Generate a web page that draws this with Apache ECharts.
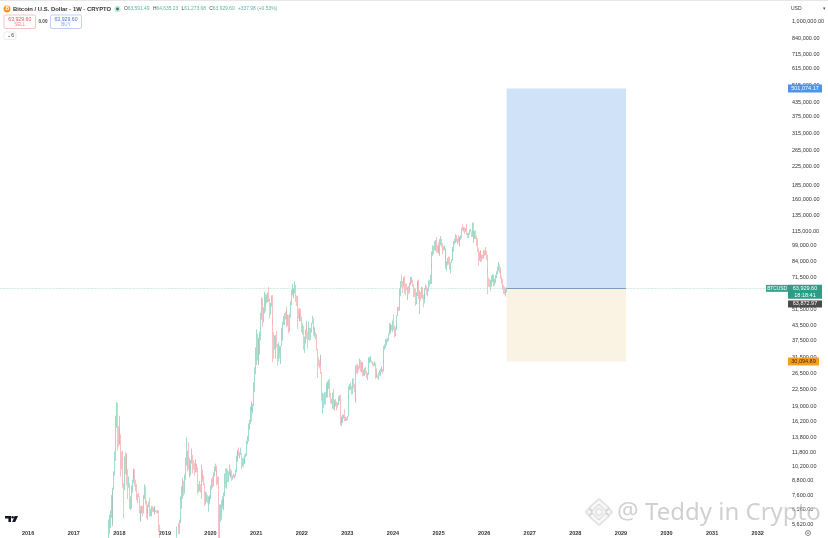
<!DOCTYPE html>
<html><head><meta charset="utf-8">
<style>html,body{margin:0;padding:0;background:#fff}#c{width:828px;height:538px}</style>
<script src="https://cdn.jsdelivr.net/npm/echarts@6/dist/echarts.min.js"></script>
</head><body><div id="c"></div>
<script>
// Weekly candles, flat High,Low,Close in thousands of USD, one line per month.
const firstOpen = 4.3;
const w2017 = [
4.9,4.1,4.8, 5.9,4.7,5.7, 6.2,5.1,6.0, 6.5,5.4,6.1, 7.6,6.0,7.4,
7.9,5.5,5.9, 8.2,5.6,8.0, 9.7,8.0,9.3, 11.9,9.4,11.3,
17.2,10.8,15.2, 19.8,15.2,19.0, 19.7,12.0,14.0, 15.5,12.5,13.8];
const w2018 = [
17.2,12.8,14.2, 15.0,12.8,13.6, 14.2,9.2,11.6, 11.9,9.9,11.1, 12.0,8.3,8.2,
8.6,6.0,8.1, 11.3,8.0,10.3, 11.8,9.4,9.6, 11.5,9.4,11.4,
11.7,8.4,9.5, 9.9,7.3,8.2, 9.2,8.2,8.5, 8.6,6.6,6.9,
7.5,6.5,7.0, 8.4,6.6,8.3, 8.9,7.8,8.8, 9.7,8.6,9.3, 10.0,9.0,9.7,
9.9,8.3,8.7, 8.9,7.9,8.2, 8.5,7.2,7.4, 7.7,7.0,7.6,
7.8,7.4,7.5, 7.5,6.3,6.5, 6.8,5.8,6.1, 6.5,5.8,6.4,
6.8,6.3,6.7, 6.8,6.1,6.3, 7.6,6.3,7.4, 8.5,7.3,8.2, 8.3,6.9,7.0,
7.2,6.0,6.3, 6.6,5.9,6.4, 6.9,6.3,6.7, 7.1,6.7,7.0,
7.4,6.1,6.3, 6.6,6.1,6.5, 6.8,6.1,6.7, 6.8,6.4,6.6,
6.7,6.4,6.6, 6.7,6.2,6.3, 6.8,6.4,6.4, 6.5,6.4,6.45, 6.5,6.3,6.4,
6.5,6.3,6.4, 6.5,5.2,5.6, 5.6,3.5,3.8, 4.3,3.6,3.9,
4.2,3.2,3.3, 3.6,3.2,3.5, 4.2,3.3,3.9, 4.1,3.5,3.7, 4.1,3.6,4.0];
const w2019 = [
4.2,3.5,3.6, 3.7,3.5,3.6, 3.7,3.5,3.55, 3.6,3.3,3.4,
3.7,3.4,3.6, 3.7,3.6,3.65, 4.2,3.6,3.8, 3.9,3.7,3.8,
3.9,3.7,3.9, 4.0,3.8,4.0, 4.05,3.9,4.0, 4.1,3.9,4.1,
5.3,4.1,5.1, 5.5,4.9,5.1, 5.4,5.0,5.3, 5.7,5.1,5.2, 5.9,5.1,5.7,
7.5,5.7,7.2, 8.3,6.6,7.3, 8.9,7.5,8.7, 9.1,8.0,8.6,
8.8,7.5,7.7, 9.4,7.7,8.9, 11.2,8.9,10.8, 13.8,10.3,10.8,
12.0,9.7,11.3, 13.1,9.9,10.2, 11.1,9.1,10.7, 10.7,9.2,9.5, 10.9,9.3,10.5,
12.3,10.5,11.3, 11.5,9.5,10.3, 10.9,9.9,10.1, 10.6,9.3,9.6,
11.0,9.6,10.4, 10.5,9.9,10.3, 10.4,9.6,10.0, 10.1,7.7,8.0, 8.5,7.8,8.1,
8.8,7.9,8.3, 8.5,7.8,8.2, 10.4,7.3,9.5, 9.9,8.9,9.2,
9.5,8.7,8.8, 9.3,8.4,8.5, 8.6,6.8,7.3, 7.9,6.9,7.4,
7.8,7.1,7.5, 7.6,7.0,7.1, 7.5,6.4,7.3, 7.6,7.1,7.3, 7.5,6.9,7.4];
const w2020 = [
8.4,7.3,8.2, 9.0,8.0,8.9, 9.2,8.2,8.3, 9.6,8.3,9.3,
10.2,9.2,9.9, 10.5,9.7,9.9, 10.3,9.3,9.7, 9.9,8.4,8.6,
9.2,8.5,8.9, 9.2,3.8,5.4, 6.9,4.4,5.8, 6.9,5.8,6.2, 7.2,5.9,6.8,
7.5,6.6,6.9, 7.3,6.5,7.1, 7.8,6.8,7.5, 9.5,7.6,8.9,
10.0,8.2,8.7, 10.0,8.1,9.7, 9.9,8.7,8.7, 9.7,8.7,9.4,
10.4,9.3,9.7, 10.0,9.1,9.3, 9.6,9.2,9.3, 9.8,8.8,9.0, 9.3,8.9,9.1,
9.5,9.1,9.3, 9.4,9.0,9.2, 9.9,9.2,9.7, 11.4,9.6,11.0,
12.0,10.7,11.7, 12.1,11.1,11.8, 12.4,11.4,11.6, 11.8,11.1,11.7, 12.4,11.5,11.7,
11.7,9.9,10.3, 11.1,10.2,11.0, 11.2,10.1,10.7, 11.0,10.5,10.7,
11.5,10.5,11.4, 11.7,11.2,11.5, 13.3,11.4,13.0, 14.0,12.8,13.8,
15.9,13.2,15.5, 16.5,14.9,16.0, 18.9,15.8,18.7, 19.5,16.2,18.2, 19.9,18.1,19.0,
19.4,17.6,19.2, 24.3,19.0,23.8, 28.4,22.0,26.4, 34.8,27.0,33.0];
const w2021 = [
41.9,29.0,38.0, 40.0,30.4,36.0, 37.8,28.9,32.3, 38.5,29.3,34.3,
40.9,32.3,39.0, 49.7,37.4,48.6, 58.3,46.3,57.4, 57.5,43.0,46.2,
52.6,45.0,51.0, 61.7,49.3,59.0, 60.5,53.3,58.0, 58.4,50.4,55.8, 60.0,54.9,58.0,
61.2,55.5,60.0, 64.9,55.5,56.2, 57.5,47.0,49.0, 55.0,48.7,54.9,
59.5,53.0,58.2, 59.6,43.9,46.5, 46.6,30.0,34.7, 40.8,31.0,34.6, 39.4,34.0,35.5,
39.4,31.0,39.0, 41.3,34.8,35.6, 36.0,28.8,34.7, 36.6,30.2,35.3,
35.4,32.7,34.2, 34.7,31.0,31.5, 35.3,29.3,35.3, 42.6,35.2,41.5,
45.3,37.3,44.6, 48.1,43.8,47.0, 49.4,43.9,49.3, 50.4,46.4,47.0, 51.0,46.5,50.0,
52.9,42.8,45.0, 48.8,43.4,48.3, 48.4,40.2,42.7, 49.2,40.8,48.0,
56.0,47.2,55.0, 62.9,53.8,61.0, 67.0,59.5,61.0, 63.7,57.8,61.8,
64.2,59.4,61.5, 69.0,60.8,65.5, 66.3,55.6,58.7, 59.4,53.3,54.7, 59.1,42.0,49.4,
51.9,46.8,49.3, 49.5,45.5,46.8, 52.1,45.6,50.8, 52.0,45.7,47.7];
const w2022 = [
47.9,40.6,41.8, 44.4,39.7,43.0, 43.4,34.0,35.0, 38.9,32.9,38.0, 41.8,36.2,41.4,
45.8,40.9,42.2, 44.7,38.0,38.4, 40.9,34.3,37.7, 45.4,37.6,38.4,
42.6,37.2,37.8, 42.4,37.6,41.3, 44.9,40.6,44.5, 48.2,44.4,45.8,
47.0,41.9,42.8, 42.4,39.2,39.7, 42.9,38.6,39.7, 40.7,37.7,38.5,
40.0,33.7,34.0, 34.3,25.4,30.0, 31.4,28.6,29.4, 30.5,28.0,29.0, 32.3,29.0,29.9,
31.8,26.5,26.6, 27.0,20.1,20.5, 21.8,17.6,21.0, 21.5,18.6,19.3,
21.9,19.3,21.6, 22.0,19.3,20.8, 24.2,20.7,22.6, 24.6,20.8,23.6,
23.6,22.4,23.2, 25.0,22.7,24.4, 25.2,20.8,21.5, 21.8,19.5,19.6, 20.5,19.5,20.0,
21.9,18.5,21.8, 22.8,18.3,19.4, 19.6,18.1,18.8, 20.3,18.5,19.0,
20.4,19.0,19.4, 19.9,18.2,19.3, 19.7,18.7,19.6, 21.0,19.2,20.6, 21.0,20.0,21.3,
21.4,15.6,16.3, 17.1,16.0,16.3, 16.7,15.5,16.4, 17.4,16.0,17.1,
17.4,16.7,17.1, 18.4,16.3,16.8, 17.0,16.3,16.8, 16.9,16.3,16.6];
const w2023 = [
17.2,16.5,17.2, 21.3,17.1,21.0, 23.3,20.5,22.7, 23.8,22.3,23.0, 24.2,22.5,23.3,
23.4,21.4,21.8, 25.3,21.5,24.6, 25.2,22.8,23.2, 23.9,21.9,22.4,
22.6,19.6,22.0, 28.8,20.0,28.0, 29.2,26.6,27.5, 29.2,26.5,28.4,
28.8,27.2,28.0, 31.0,27.9,30.3, 30.5,27.1,27.8, 30.0,26.9,29.2,
29.9,27.7,28.9, 29.7,25.8,26.9, 27.7,26.0,27.0, 28.2,25.9,27.7, 28.4,26.5,27.1,
27.4,25.4,25.9, 26.8,24.8,26.3, 31.4,26.2,30.5, 31.0,29.5,30.5,
31.5,29.8,30.3, 31.8,29.9,30.3, 30.4,29.6,30.0, 30.0,28.9,29.3, 29.7,28.6,29.0,
30.2,28.7,29.3, 29.7,25.2,26.0, 26.8,25.7,26.0, 28.1,25.4,25.9,
26.1,25.3,25.8, 26.8,24.9,26.5, 27.5,26.0,26.6, 28.0,26.0,27.0,
28.6,27.2,27.9, 27.9,26.5,27.2, 30.4,27.1,30.0, 35.3,29.8,34.1, 35.9,33.9,35.0,
37.9,34.5,37.0, 38.0,35.6,37.4, 38.4,36.8,37.5, 40.2,37.2,39.5,
44.7,39.5,44.0, 44.0,40.2,41.4, 44.4,40.5,43.6, 43.8,41.4,42.3];
const w2024 = [
45.9,40.8,44.0, 49.0,41.5,41.7, 43.6,38.5,41.6, 42.8,39.0,42.0, 43.8,41.8,43.0,
48.5,42.3,48.3, 52.8,48.0,52.1, 52.9,50.5,51.7, 64.0,50.9,63.0,
69.0,59.0,68.9, 73.8,64.5,68.4, 68.9,60.8,67.2, 71.6,66.0,69.6,
71.3,64.5,69.4, 72.8,60.6,65.6, 67.2,59.6,64.9, 67.2,62.8,63.1, 64.7,56.6,64.0,
65.5,60.2,61.5, 67.7,60.7,66.9, 71.9,66.2,69.0, 70.0,66.6,67.7,
71.9,67.6,69.6, 70.0,65.0,66.2, 66.7,58.4,63.2, 64.0,58.5,62.7,
63.8,53.5,55.9, 61.4,54.3,60.8, 68.3,59.0,68.2, 69.4,63.4,68.2, 70.0,57.2,58.7,
62.7,49.0,58.7, 61.8,56.2,58.4, 65.0,57.8,64.2, 64.5,57.2,57.3,
59.8,52.6,54.8, 60.6,55.5,60.0, 64.1,57.5,63.6, 66.5,62.7,65.6, 65.2,59.8,62.8,
64.4,58.9,62.9, 69.4,62.0,69.0, 69.5,65.1,67.0, 73.6,66.8,69.4,
81.5,66.8,80.4, 93.5,80.2,89.8, 99.6,89.4,97.7, 98.9,90.8,97.2,
104.0,94.6,101.0, 105.0,94.2,104.5, 108.4,92.2,95.0, 99.9,92.5,93.7, 99.0,92.0,98.0];
const w2025 = [
102.7,91.2,94.5, 106.4,89.3,104.5, 109.6,99.5,104.8, 106.5,97.8,100.6,
102.0,91.2,96.5, 98.8,94.1,96.1, 99.5,94.8,96.3, 96.5,78.2,94.0,
95.0,80.0,80.7, 84.5,76.6,82.5, 87.4,81.1,86.0, 88.8,81.6,82.3, 88.5,77.5,78.2,
83.6,74.5,83.7, 86.4,83.1,85.2, 95.7,85.1,93.7, 97.9,92.9,94.3,
104.1,93.5,104.0, 106.7,100.7,106.4, 111.9,102.0,109.0, 110.7,103.1,105.7,
106.8,100.4,105.7, 110.4,102.7,105.5, 109.0,98.2,100.9, 108.5,99.8,108.4, 110.5,105.3,109.2,
119.5,107.5,119.0, 123.2,115.7,117.9, 120.2,114.7,119.4, 119.8,112.0,114.2,
119.3,114.2,119.3, 124.5,116.8,117.4, 117.6,110.7,113.5, 113.4,107.4,108.2,
113.4,107.3,111.1, 116.7,110.7,115.3, 117.9,114.8,115.3, 113.5,108.6,112.2, 125.7,108.6,123.5,
126.2,102.0,115.2, 116.0,103.5,108.6, 115.4,106.1,114.5, 116.4,106.3,110.0,
107.5,98.9,104.7, 107.0,93.0,94.5, 96.6,80.6,86.8, 93.1,85.0,90.4,
94.1,83.8,88.5, 94.6,87.6,88.0, 90.3,84.4,88.2, 90.6,86.5,87.5, 94.5,86.8,91.0];
const w2026 = [
94.8,89.2,90.5, 97.9,90.0,93.5, 94.0,85.7,86.5, 90.4,74.6,78.0,
79.3,60.2,70.0, 71.5,65.1,69.0, 70.5,64.9,67.0, 69.8,62.5,67.5,
72.9,65.0,69.0, 74.0,68.1,71.0, 73.8,68.4,70.0, 71.7,65.4,67.0, 70.4,65.8,69.0,
73.5,67.4,72.0, 76.2,71.0,75.0, 80.0,74.0,77.0, 83.9,76.2,80.0,
81.6,75.2,77.5, 79.5,73.8,75.0, 76.4,70.2,72.0, 72.8,66.9,70.0,
70.5,63.0,65.0, 66.2,60.4,63.0, 65.1,60.0,62.5, 64.0,58.8,63.591, 64.635,61.274,63.9296];
const weeklyRows = [w2017, w2018, w2019, w2020, w2021, w2022, w2023, w2024, w2025, w2026];

const firstWeek = Date.UTC(2017, 9, 2);
const priceTicks = [1000000,840000,715000,615000,515000,435000,375000,315000,265000,225000,185000,160000,135000,115000,99000,84000,71500,60500,51500,43500,37500,31500,26500,22500,19000,16200,13800,11800,10200,8800,7600,6560,5620];
const yearTicks = [2016,2017,2018,2019,2020,2021,2022,2023,2024,2025,2026,2027,2028,2029,2030,2031,2032];
const lastPrice = 63929.60, bidPrice = 63872.97, targetPrice = 501074.17, stopPrice = 30094.89;
const entryTime = Date.UTC(2026, 5, 30), endTime = Date.UTC(2029, 1, 10);
const xMin = Date.UTC(2015, 4, 21), xMax = Date.UTC(2032, 8, 16);

const flat = weeklyRows.flat();
const candles = [];
let prevClose = firstOpen;
for (let i = 0; i * 3 < flat.length; i++) {
  const h = flat[i*3] * 1000, l = flat[i*3+1] * 1000, c = flat[i*3+2] * 1000;
  candles.push([firstWeek + i * 7 * 864e5, prevClose * 1000, c, Math.min(l, c, prevClose*1000), Math.max(h, c, prevClose*1000)]);
  prevClose = c / 1000;
}
const FONT = '"Liberation Sans", Arial, sans-serif';
const tag = (value, text, bg, fg, size, offset, fs) => ({
  coord: [xMax, value], symbol: 'rect', symbolSize: size, symbolOffset: offset,
  itemStyle: {color: bg},
  label: {show: true, position: 'inside', formatter: text, color: fg, fontSize: fs || 5.5, fontFamily: FONT, lineHeight: 6.5}
});

const chart = echarts.init(document.getElementById('c'), null, {renderer: 'canvas'});
const txt = (x, y, text, o) => ({type: 'text', x, y, silent: true, style: Object.assign({text, fontSize: 5.5, fontFamily: FONT, fill: '#333', textVerticalAlign: 'middle'}, o || {})});
const box = (x, y, w, h, stroke) => ({type: 'rect', silent: true, shape: {x, y, width: w, height: h, r: 1.5}, style: {fill: '#fff', stroke, lineWidth: 0.7}});
const diamond = (cx, cy, r) => ({type: 'polygon', silent: true, z: 20, shape: {points: [[cx, cy-r],[cx+r, cy],[cx, cy+r],[cx-r, cy]]}, style: {fill: '#fafafa', stroke: '#d9d9d9', lineWidth: 0.8, shadowBlur: 2, shadowColor: 'rgba(0,0,0,.18)'}});
const chevron = (cy, dir) => ({type: 'polygon', silent: true, z: 20, shape: {points: [[599, cy],[609, cy+dir*9],[606, cy+dir*12],[599, cy+dir*5],[592, cy+dir*12],[589, cy+dir*9]]}, style: {fill: '#fafafa', stroke: '#d9d9d9', lineWidth: 0.8, shadowBlur: 2, shadowColor: 'rgba(0,0,0,.18)'}});

chart.setOption({
  animation: false,
  backgroundColor: '#fff',
  grid: {left: 0, right: 38, top: 3, bottom: 11, containLabel: false},
  xAxis: {
    type: 'value', min: xMin, max: xMax, scale: true,
    axisLine: {show: false}, axisTick: {show: false}, splitLine: {show: false},
    axisLabel: {
      customValues: yearTicks.map(y => Date.UTC(y, 0, 1)),
      formatter: v => String(new Date(v + 864e5).getUTCFullYear()),
      fontSize: 5.5, fontWeight: 'bold', color: '#333', fontFamily: FONT, margin: 3, hideOverlap: false, showMinLabel: true, showMaxLabel: true
    }
  },
  yAxis: {
    type: 'log', position: 'right', min: 5470, max: 1209000, logBase: 10,
    axisLine: {show: false}, axisTick: {show: false}, splitLine: {show: false}, minorTick: {show: false},
    axisLabel: {
      customValues: priceTicks,
      formatter: v => Number(v).toLocaleString('en-US', {minimumFractionDigits: 2, maximumFractionDigits: 2}),
      fontSize: 5.5, color: '#333', fontFamily: FONT, margin: 2, align: 'left', hideOverlap: false
    }
  },
  series: [{
    type: 'candlestick', name: 'BTCUSD', data: candles, barWidth: 0.9,
    encode: {x: 0, y: [1, 2, 3, 4]},
    itemStyle: {color: '#6cc4b0', color0: '#f0a0a0', borderColor: '#7ccbb9', borderColor0: '#f2a8a8', borderWidth: 0.7},
    markArea: {
      silent: true, z: 1,
      data: [
        [{coord: [entryTime, lastPrice], itemStyle: {color: '#cfe2f8'}}, {coord: [endTime, targetPrice]}],
        [{coord: [entryTime, stopPrice], itemStyle: {color: '#faf2e2'}}, {coord: [endTime, lastPrice]}]
      ]
    },
    markLine: {
      silent: true, symbol: 'none', animation: false,
      data: [
        [{coord: [xMin, lastPrice], lineStyle: {color: '#a5d8cd', type: 'dotted', width: 0.7}, label: {show: false}}, {coord: [xMax, lastPrice]}],
        [{coord: [entryTime, lastPrice], lineStyle: {color: '#7f9cb8', type: 'solid', width: 1}, label: {show: false}}, {coord: [endTime, lastPrice]}]
      ]
    },
    markPoint: {
      silent: true, animation: false,
      data: [
        tag(targetPrice, '501,074.17', '#4a94ea', '#fff', [34, 8], [15, 0]),
        tag(lastPrice, '63,929.60\n18:18:41', '#2f9c86', '#fff', [34, 14], [15, 3.5]),
        tag(bidPrice, '63,872.97', '#4a4a4a', '#fff', [34, 7], [15, 15.5]),
        tag(lastPrice, 'BTCUSD', '#3aa28d', '#fff', [22, 7], [-13, 0], 4.8),
        tag(stopPrice, '30,094.89', '#f59d1e', '#3a2a10', [31, 8], [13.5, 0])
      ]
    }
  }],
  graphic: {elements: [
    {type: 'rect', silent: true, shape: {x: 0, y: 0, width: 828, height: 1}, style: {fill: '#e6e6e6'}},
    {type: 'circle', silent: true, shape: {cx: 7, cy: 9, r: 3.4}, style: {fill: '#f7931a'}},
    txt(5.4, 9, 'B', {fontSize: 5, fill: '#fff', fontWeight: 'bold'}),
    txt(13, 9, 'Bitcoin / U.S. Dollar · 1W · CRYPTO', {fontSize: 5.9, fill: '#333', fontWeight: 'bold'}),
    {type: 'circle', silent: true, shape: {cx: 117.5, cy: 9, r: 3.2}, style: {fill: '#cfe9e3'}},
    {type: 'circle', silent: true, shape: {cx: 117.5, cy: 9, r: 1.4}, style: {fill: '#26735f'}},
    {type: 'text', x: 124, y: 9, silent: true, style: {
      text: '{k|O}{v|63,591.49} {k|H}{v|64,635.23} {k|L}{v|61,273.68} {k|C}{v|63,929.60} {v|+337.98 (+0.53%)}',
      textVerticalAlign: 'middle', fontFamily: FONT,
      rich: {k: {fontSize: 4.9, fill: '#444', fontFamily: FONT}, v: {fontSize: 4.9, fill: '#5cb3a0', fontFamily: FONT}}
    }},
    box(4, 15, 31.5, 13.5, '#f2a9a9'),
    txt(19.8, 19.5, '63,929.60', {fill: '#e0575f', textAlign: 'center', fontSize: 5.2}),
    txt(19.8, 25, 'SELL', {fill: '#ef8f8f', textAlign: 'center', fontSize: 4.6}),
    txt(43, 21.5, '0.00', {fill: '#444', textAlign: 'center', fontSize: 4.6, fontWeight: 'bold'}),
    box(50.5, 15, 31, 13.5, '#a9bcf2'),
    txt(66, 19.5, '63,929.60', {fill: '#4f74d9', textAlign: 'center', fontSize: 5.2}),
    txt(66, 25, 'BUY', {fill: '#8aa4ea', textAlign: 'center', fontSize: 4.6}),
    box(4, 32, 12, 7.5, '#e4e4e4'),
    txt(7, 35.8, '⌄', {fontSize: 5, fill: '#333'}),
    txt(11.2, 35.8, '6', {fontSize: 5, fill: '#333'}),
    txt(791, 9, 'USD', {fontSize: 5, fill: '#333'}),
    txt(824, 9, '▾', {fontSize: 4.5, fill: '#555', textAlign: 'center'}),
    {type: 'circle', silent: true, shape: {cx: 808, cy: 533, r: 2.5}, style: {fill: '#fff', stroke: '#555', lineWidth: 0.7}},
    {type: 'circle', silent: true, shape: {cx: 808, cy: 533, r: 0.8}, style: {fill: '#555'}},
    {type: 'polygon', silent: true, shape: {points: [[5,516],[11,516],[11,522],[8.4,522],[8.4,518.4],[5,518.4]]}, style: {fill: '#131722'}},
    {type: 'circle', silent: true, shape: {cx: 12.6, cy: 517.2, r: 1.2}, style: {fill: '#131722'}},
    {type: 'polygon', silent: true, shape: {points: [[14.6,516],[18,516],[15.2,522],[12.2,522]]}, style: {fill: '#131722'}},
    chevron(499, 1), chevron(525, -1),
    diamond(599, 512, 4), diamond(589, 512, 3.2), diamond(609, 512, 3.2),
    {type: 'text', x: 617, y: 512, z: 20, silent: true, style: {text: '@', fontSize: 24, fontFamily: '"Noto Sans"', fill: 'rgba(150,150,150,.45)', stroke: '#fff', lineWidth: 1, textVerticalAlign: 'middle'}},
    {type: 'text', x: 645, y: 513, z: 20, silent: true, style: {text: 'Teddy in Crypto', fontSize: 24, fontFamily: '"Noto Sans"', fill: 'rgba(150,150,150,.45)', stroke: 'rgba(255,255,255,.7)', lineWidth: 1, textVerticalAlign: 'middle'}}
  ]}
});
</script></body></html>
